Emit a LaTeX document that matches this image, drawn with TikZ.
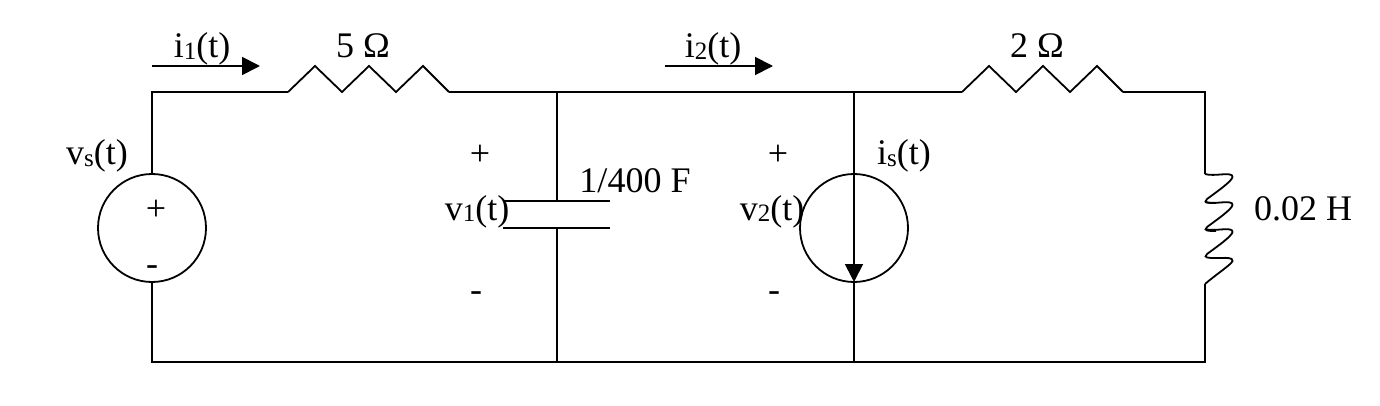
\documentclass[tikz,border=0pt]{standalone}
\usepackage{fontspec}
\setmainfont{Liberation Serif}
\usetikzlibrary{arrows.meta}
\newcommand{\lowsub}[1]{\raisebox{-1.5pt}{\fontsize{25}{25}\selectfont #1}}
\tikzset{
  wire/.style={line width=1.8pt,line join=miter},
  source/.style={draw,circle,line width=1.8pt,minimum size=108pt,inner sep=0pt,outer sep=0pt},
  lbl/.style={anchor=base,inner sep=0pt,font=\fontsize{36}{40}\selectfont},
  current/.style={line width=1.8pt,-{Triangle[length=18pt,width=18pt]}}
}
\begin{document}
\begin{tikzpicture}[x=1pt,y=-1pt]
\useasboundingbox (0,0) rectangle (1380,406);
% corners of the circuit
\coordinate (tl) at (152,92);
\coordinate (bl) at (152,362);
\coordinate (tc) at (557,92);
\coordinate (bc) at (557,362);
\coordinate (ts) at (854,92);
\coordinate (bs) at (854,362);
\coordinate (tr) at (1205,92);
\coordinate (br) at (1205,362);
\coordinate (r1a) at (288,92);
\coordinate (r1b) at (449,92);
\coordinate (r2a) at (962,92);
\coordinate (r2b) at (1123,92);
\coordinate (la) at (1205,174);
\coordinate (lb) at (1205,284);
\coordinate (cu) at (557,201);
\coordinate (cd) at (557,228);
\coordinate (cul) at (504,201);
\coordinate (cur) at (610,201);
\coordinate (cdl) at (503,228);
\coordinate (cdr) at (610,228);
\coordinate (i1a) at (152,66);
\coordinate (i1b) at (260,66);
\coordinate (i2a) at (665,66);
\coordinate (i2b) at (773,66);
% sources
\node[source] (vs) at (152,228) {};
\node[source] (is) at (854,228) {};
% wires
\draw[wire] (vs.north) -- (tl) -- (r1a);
\draw[wire] (r1a) -- ++(27,-26) -- ++(27,26) -- ++(27,-26) -- ++(27,26) -- ++(27,-26) -- (r1b);
\draw[wire] (r1b) -- (tc) -- (ts) -- (r2a);
\draw[wire] (r2a) -- ++(27,-26) -- ++(27,26) -- ++(27,-26) -- ++(27,26) -- ++(27,-26) -- (r2b);
\draw[wire] (r2b) -- (tr) -- (la);
% inductor coils
\foreach \y in {0,28,55}
  \draw[wire] (1205,174+\y) .. controls (1214,177+\y) and (1233,171+\y) .. (1232.5,177+\y)
    .. controls (1232,181+\y) and (1218,191+\y) .. (1207,199+\y)
    .. controls (1203,203+\y) and (1208,203+\y) .. (1216,203+\y);
\draw[wire] (1216,258) .. controls (1226,258) and (1233,257) .. (1232.5,261) .. controls (1232,264) and (1214,276) .. (lb);
\draw[wire] (lb) -- (br) -- (bl) -- (vs.south);
\draw[wire] (tc) -- (cu);
\draw[wire] (cd) -- (bc);
\draw[wire] (cul) -- (cur);
\draw[wire] (cdl) -- (cdr);
\draw[wire] (ts) -- (is.north);
\draw[wire] (is.south) -- (bs);
% currents
\draw[current] (is.north) -- (is.south);
\draw[current] (i1a) -- (i1b);
\draw[current] (i2a) -- (i2b);
% labels
\node[lbl] (li1) at (202,58) {i\lowsub{1}(t)};
\node[lbl] (lr1) at (363,58) {5 Ω};
\node[lbl] (li2) at (713,58) {i\lowsub{2}(t)};
\node[lbl] (lr2) at (1037,58) {2 Ω};
\node[lbl] (lvs) at (97,165) {v\lowsub{s}(t)};
\node[lbl] (lis) at (904,165) {i\lowsub{s}(t)};
\node[lbl] (lv1) at (477,220) {v\lowsub{1}(t)};
\node[lbl] (lv2) at (772,220) {v\lowsub{2}(t)};
\node[lbl] (lc) at (635,193) {1/400 F};
\node[lbl] (ll) at (1303,220) {0.02 H};
\node[lbl] (ps) at (156,220) {+};
\node[lbl] (ms) at (152,275) {-};
\node[lbl] (p1) at (480,166) {+};
\node[lbl] (m1) at (476,301) {-};
\node[lbl] (p2) at (778,166) {+};
\node[lbl] (m2) at (774,301) {-};
\end{tikzpicture}
\end{document}
